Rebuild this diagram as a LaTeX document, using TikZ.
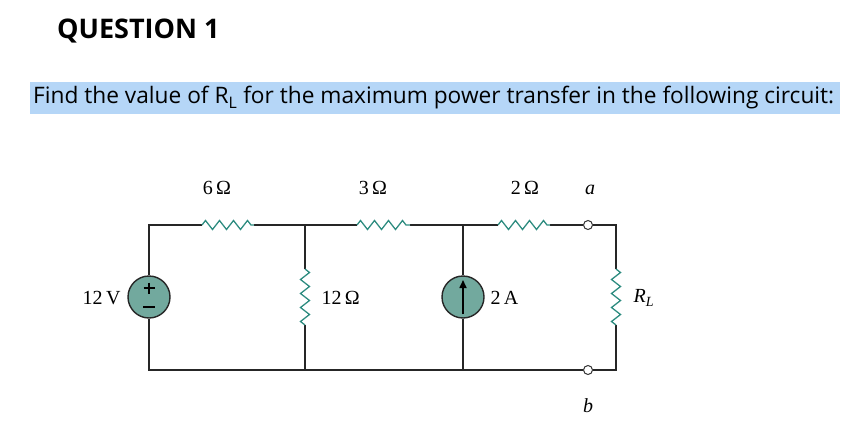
\documentclass[tikz,border=0pt]{standalone}
\usepackage{fontspec}
\setmainfont{Liberation Serif}
\newfontfamily\sansf{Open Sans}
\usetikzlibrary{decorations.pathmorphing,arrows.meta}
\definecolor{teal1}{HTML}{2E8C80}
\definecolor{srcfill}{HTML}{72A99E}
\definecolor{hl}{HTML}{B5D6F7}
\begin{document}
\begin{tikzpicture}[x=1pt,y=-1pt,
  wire/.style={line width=1.4pt,black!85},
  res/.style={line width=1.3pt,teal1,decorate,decoration={zigzag,segment length=14pt,amplitude=4.5pt}},
  term/.style={circle,draw=black!80,fill=white,line width=1pt,inner sep=0pt,minimum size=9pt},
  src/.style={circle,draw=black!85,fill=srcfill,line width=1.4pt,minimum size=42pt,inner sep=0pt},
  lbl/.style={font=\fontsize{20}{20}\selectfont}]
\useasboundingbox (0,0) rectangle (864,428);
\node[anchor=west,font=\sansf\bfseries\fontsize{27}{27}\selectfont,inner sep=0pt] (title) at (57,31) {QUESTION 1};
\fill[hl] (30,82) rectangle (840,114);
\node[anchor=west,font=\sansf\fontsize{22.7}{23}\selectfont,inner sep=0pt] (q) at (33,98) {Find the value of R\textsubscript{L} for the maximum power transfer in the following circuit:};
\coordinate (tl) at (149,225); \coordinate (bl) at (149,370);
\coordinate (t2) at (305,225); \coordinate (b2) at (305,370);
\coordinate (t3) at (463,225); \coordinate (b3) at (463,370);
\coordinate (tr) at (616,225); \coordinate (br) at (616,370);
\node[src] (vs) at (149,297) {};
\node[src] (is) at (463,297) {};
\node[term] (a) at (588,225) {};
\node[term] (b) at (588,370) {};
\coordinate (r6a) at (202,225); \coordinate (r6b) at (254,225);
\coordinate (r3a) at (357,225); \coordinate (r3b) at (410,225);
\coordinate (r2a) at (498,225); \coordinate (r2b) at (550,225);
\coordinate (r12a) at (305,269); \coordinate (r12b) at (305,325);
\coordinate (rla) at (616,269); \coordinate (rlb) at (616,325);
\draw[wire] (vs.north) -- (tl) -- (r6a);
\draw[wire] (r6b) -- (r3a); \draw[wire] (r3b) -- (r2a);
\draw[wire] (r2b) -- (a.west); \draw[wire] (a.east) -- (tr) -- (rla);
\draw[wire] (rlb) -- (br) -- (b.east); \draw[wire] (b.west) -- (bl) -- (vs.south);
\draw[wire] (t2) -- (r12a); \draw[wire] (r12b) -- (b2);
\draw[wire] (t3) -- (is.north); \draw[wire] (is.south) -- (b3);
\draw[res] (r6a) -- (r6b); \draw[res] (r3a) -- (r3b); \draw[res] (r2a) -- (r2b);
\draw[res] (r12a) -- (r12b); \draw[res] (rla) -- (rlb);
\draw[line width=1.4pt] (143.5,288) -- (154.5,288) (149,282.5) -- (149,293.5);
\draw[line width=1.4pt] (143,307) -- (155,307);
\draw[line width=1.6pt,-{Triangle[length=8pt,width=7pt]}] (463,314) -- (463,280);
\node[lbl] (l6) at (217,188) {6\,Ω};
\node[lbl] (l3) at (373,188) {3\,Ω};
\node[lbl] (l2) at (525,188) {2\,Ω};
\node[lbl] (la) at (590,190) {\textit{a}};
\node[lbl] (lb) at (588,406) {\textit{b}};
\node[lbl,anchor=east] (l12v) at (124,298) {12\,V};
\node[lbl,anchor=west] (l12) at (318,298) {12\,Ω};
\node[lbl,anchor=west] (l2a) at (487,298) {2\,A};
\node[lbl,anchor=west] (lrl) at (630,298) {\textit{R\textsubscript{L}}};
\end{tikzpicture}
\end{document}
